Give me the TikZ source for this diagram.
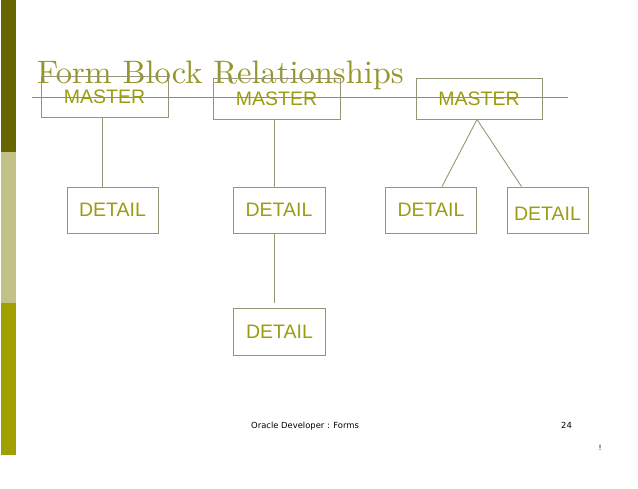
\documentclass[tikz,border=0pt]{standalone}
\usepackage{fontspec}
\setsansfont{Liberation Sans}
\newfontfamily\footerfont{DejaVu Sans}
\newfontfamily\titlefont{lmroman10-regular}[Extension=.otf]
\usepackage{xcolor}
\usepackage{tikz}
\usetikzlibrary{positioning}

\definecolor{barDark}{RGB}{102,102,0}
\definecolor{barLight}{RGB}{194,194,134}
\definecolor{barBright}{RGB}{160,160,0}
\definecolor{titleOlive}{RGB}{150,150,40}
\definecolor{textOlive}{RGB}{155,155,20}
\definecolor{boxGray}{RGB}{150,150,118}

\begin{document}
\begin{tikzpicture}[x=1pt, y=-1pt,
    block/.style={draw=boxGray, line width=0.9pt, text=textOlive, inner sep=0pt,
      font=\sffamily\fontsize{19.5}{22}\selectfont, minimum height=41pt},
    detail/.style={block, minimum height=46pt},
    link/.style={draw=boxGray, line width=0.9pt}]
    \useasboundingbox (0,0) rectangle (638,488);

    % Side bar
    \fill[barDark] (1,0) rectangle (16,152);
    \fill[barLight] (1,152) rectangle (16,303);
    \fill[barBright] (1,303) rectangle (16,455);

    % Title and its rule
    \node[anchor=base west, inner sep=0pt, text=titleOlive,
      font=\titlefont\fontsize{32.5}{36}\selectfont] (title) at (37,83) {Form Block Relationships};
    \draw[titleOlive, line width=0.8pt] (32,97) -- (568,97);

    % Master blocks
    \node[block, minimum width=127pt] (m1) at (104.5,96.5) {MASTER};
    \node[block, minimum width=127pt] (m2) at (276.5,98.5) {MASTER};
    \node[block, minimum width=126pt] (m3) at (479,98.5) {MASTER};

    % Detail blocks
    \node[detail, minimum width=91pt] (d1) at (112.5,210) {DETAIL};
    \node[detail, minimum width=92pt] (d2) at (279,210) {DETAIL};
    \node[detail, minimum width=91pt] (d3) at (431,210) {DETAIL};
    \node[detail, minimum width=81pt, text height=21pt] (d4) at (547.5,210) {DETAIL};
    \node[detail, minimum width=92pt, minimum height=47pt] (d5) at (279.5,331.5) {DETAIL};

    % Relationships
    \draw[link] ([xshift=-2pt]m1.south) -- ([xshift=-2pt]m1.south |- d1.north);
    \draw[link] ([xshift=-2pt]m2.south) -- ([xshift=-2pt]m2.south |- d2.north);
    \draw[link, shorten >=5pt] ([xshift=-5pt]d2.south) -- ([xshift=-5pt]d2.south |- d5.north);
    \draw[link] ([xshift=-2pt]m3.south) -- ([xshift=11pt]d3.north);
    \draw[link] ([xshift=-2pt]m3.south) -- ([xshift=-26pt]d4.north);

    % Footer
    \node[anchor=base west, inner sep=0pt, font=\footerfont\fontsize{8.4}{10}\selectfont]
      (footer) at (251,428) {Oracle Developer : Forms};
    \node[anchor=base west, inner sep=0pt, font=\footerfont\fontsize{8.4}{10}\selectfont]
      (page) at (561,428) {24};
    \node[anchor=base, inner sep=0pt, font=\footerfont\fontsize{7.5}{8}\selectfont]
      (mark) at (600,450) {!};
\end{tikzpicture}
\end{document}
